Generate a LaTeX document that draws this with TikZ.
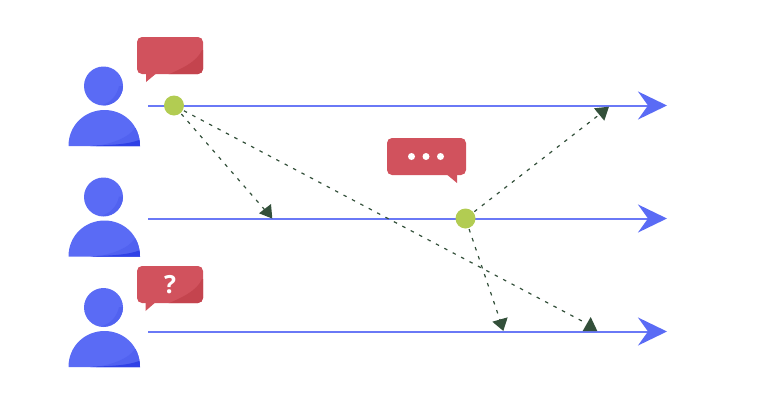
\documentclass[tikz,border=0pt]{standalone}
\usepackage{fontspec}
\setmainfont{Open Sans}
\usetikzlibrary{arrows.meta}
\definecolor{pblue}{HTML}{5A6BF5}
\definecolor{pdark}{HTML}{2F41E6}
\definecolor{pmid}{HTML}{5162F0}
\definecolor{lineblue}{HTML}{6A79F6}
\definecolor{bred}{HTML}{D1525D}
\definecolor{bdark}{HTML}{C4444E}
\definecolor{dgreen}{HTML}{33503A}
\definecolor{lime}{HTML}{B2CC52}
\tikzset{
  timeline/.style={lineblue,line width=2pt,-{Stealth[length=29pt,width=28pt,inset=10pt,color=pblue]}},
  event/.style={circle,fill=lime,minimum size=20pt,inner sep=0pt},
  msg/.style={dgreen,line width=1.2pt,dash pattern=on 3.5pt off 6pt,shorten <=1pt},
  msghead/.style={fill=dgreen},
  head/.style={circle,fill=pblue,minimum size=39pt,inner sep=0pt},
  bubtext/.style={white,font=\bfseries\fontsize{25}{25}\selectfont,inner sep=0pt},
  dot/.style={circle,fill=white,minimum size=7pt,inner sep=0pt},
  pics/person/.style={code={
    \fill[pblue] (-35.5,0) .. controls (-35.5,-21) and (-19,-36) .. (0.5,-36)
       .. controls (20,-36) and (36,-21) .. (36,0) -- cycle;
    \begin{scope}
      \clip (-35.5,0) .. controls (-35.5,-21) and (-19,-36) .. (0.5,-36)
       .. controls (20,-36) and (36,-21) .. (36,0) -- cycle;
      \fill[pmid] (-8,0) .. controls (10,-3) and (24,-8) .. (31,-18) -- (40,-18) -- (40,0) -- cycle;
      \fill[pdark] (-18,1) -- (-10,-0.4) .. controls (10,-1) and (25,-2) .. (35,-6) -- (40,0) -- cycle;
    \end{scope}
    \begin{scope}
      \clip (-0.5,-60) circle (19.5);
      \fill[pmid] (-2,-41) .. controls (6,-43) and (13,-50) .. (15,-60) -- (22,-60) -- (22,-38) -- cycle;
    \end{scope}
  }}
}
\newcommand{\bubbleshade}[4]{%
  \begin{scope}
    \clip[rounded corners=5pt] (#1,#2) rectangle (#3,#4);
    \fill[bdark] (#1+30,#4+1) .. controls (#3-22,#4-5) and (#3-6,#4-12) .. (#3-1,#2+13) -- (#3+1,#2+13) -- (#3+1,#4+1) -- cycle;
  \end{scope}}
\begin{document}
\begin{tikzpicture}[x=1pt,y=-1pt]
\useasboundingbox (0,0) rectangle (758,402);
% people
\node[head] (h1) at (103.5,86) {};
\node[head] (h2) at (103.5,197) {};
\node[head] (h3) at (103.5,307.5) {};
\pic at (104,146) {person};
\pic at (104,256.5) {person};
\pic at (104,367) {person};
% bubbles
\fill[bred] (146,72) -- (146,82) -- (158,72) -- cycle;
\node[fill=bred,rounded corners=5pt,minimum width=66pt,minimum height=37pt,inner sep=0pt] (b1) at (170,55.5) {};
\bubbleshade{137}{37}{203}{74}
\fill[bred] (445,173) -- (457,183) -- (457,173) -- cycle;
\node[fill=bred,rounded corners=5pt,minimum width=79pt,minimum height=37pt,inner sep=0pt] (b2) at (426.5,156.5) {};
\node[dot] (d1) at (411.5,156.5) {};
\node[dot] (d2) at (426,156.5) {};
\node[dot] (d3) at (440.5,156.5) {};
\fill[bred] (145.5,301) -- (145.5,311) -- (157,301) -- cycle;
\node[fill=bred,rounded corners=5pt,minimum width=66pt,minimum height=37pt,inner sep=0pt] (b3) at (170,284.5) {};
\bubbleshade{137}{266}{203}{303}
\node[bubtext] (q) at (170,285) {?};
% timelines
\coordinate (s1) at (148,105.5); \coordinate (e1) at (667,105.5);
\coordinate (s2) at (148,218.5); \coordinate (e2) at (667,218.5);
\coordinate (s3) at (148,331.5); \coordinate (e3) at (667,331.5);
\draw[timeline] (s1) -- (e1);
\draw[timeline] (s2) -- (e2);
\draw[timeline] (s3) -- (e3);
% events
\node[event] (g1) at (174,105.5) {};
\node[event] (g2) at (465.5,218.5) {};
% messages
\coordinate (m1) at (267.5,213);
\coordinate (m2) at (590.5,325.5);
\coordinate (m3) at (501,323);
\coordinate (m4) at (602,112.5);
\draw[msg] (g1) -- (m1);
\draw[msg] (g1) -- (m2);
\draw[msg] (g2) -- (m3);
\draw[msg] (g2) -- (m4);
\fill[msghead] (272.3,218.6) -- (271,204) -- (259,213.3) -- cycle;
\fill[msghead] (582.7,331) -- (597.3,331) -- (590.7,317) -- cycle;
\fill[msghead] (492.3,321.7) -- (507.7,317.3) -- (503.3,330.9) -- cycle;
\fill[msghead] (594,108.3) -- (609,106.7) -- (604.3,120.7) -- cycle;
\end{tikzpicture}
\end{document}
